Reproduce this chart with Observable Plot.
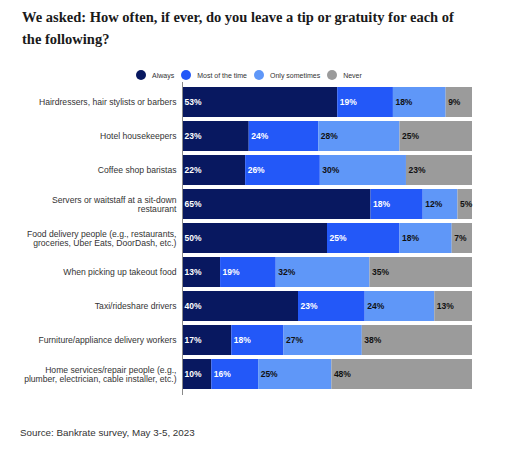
<!DOCTYPE html>
<html>
<head>
<meta charset="utf-8">
<script src="https://cdn.jsdelivr.net/npm/d3@7"></script>
<script src="https://cdn.jsdelivr.net/npm/@observablehq/plot@0.6"></script>
<style>
  html, body { margin: 0; padding: 0; background: #fff; }
  #wrap { position: relative; width: 512px; height: 450px; overflow: hidden; font-family: "Liberation Sans", Arial, sans-serif; }
  #title { position: absolute; left: 22px; top: 6px; width: 448px; font-family: "Liberation Serif", serif; font-weight: bold; font-size: 14.5px; line-height: 22px; color: #1a1a1a; }
  #legend { position: absolute; left: 136px; top: 70px; height: 10px; display: flex; align-items: center; font-size: 7px; color: #333; }
  #legend .item { display: flex; align-items: center; margin-right: 7px; }
  #legend .sw { width: 10px; height: 10px; border-radius: 50%; margin-right: 6px; }
  #chart { position: absolute; left: 0; top: 80px; }
  #source { position: absolute; left: 20px; top: 427px; font-size: 9.8px; line-height: 12px; color: #333; }
</style>
</head>
<body>
<div id="wrap">
  <div id="title">We asked: How often, if ever, do you leave a tip or gratuity for each of the following?</div>
  <div id="legend"></div>
  <div id="chart"></div>
  <div id="source">Source: Bankrate survey, May 3-5, 2023</div>
</div>
<script>
const categories = [
  "Hairdressers, hair stylists or barbers",
  "Hotel housekeepers",
  "Coffee shop baristas",
  "Servers or waitstaff at a sit-down\nrestaurant",
  "Food delivery people (e.g., restaurants,\ngroceries, Uber Eats, DoorDash, etc.)",
  "When picking up takeout food",
  "Taxi/rideshare drivers",
  "Furniture/appliance delivery workers",
  "Home services/repair people (e.g.,\nplumber, electrician, cable installer, etc.)"
];
const seriesNames = ["Always", "Most of the time", "Only sometimes", "Never"];
const seriesColors = ["#081860", "#2358f8", "#5f97f8", "#9b9b9b"];
const always    = [53, 23, 22, 65, 50, 13, 40, 17, 10];
const mostTime  = [19, 24, 26, 18, 25, 19, 23, 18, 16];
const sometimes = [18, 28, 30, 12, 18, 32, 24, 27, 25];
const never     = [ 9, 25, 23,  5,  7, 35, 13, 38, 48];

const seriesValues = [always, mostTime, sometimes, never];
const data = [];
categories.forEach((c, i) => {
  seriesNames.forEach((s, j) => {
    data.push({category: c, series: s, value: seriesValues[j][i]});
  });
});

// legend
const legend = document.getElementById("legend");
seriesNames.forEach((s, j) => {
  const it = document.createElement("div");
  it.className = "item";
  const sw = document.createElement("span");
  sw.className = "sw";
  sw.style.background = seriesColors[j];
  const tx = document.createElement("span");
  tx.textContent = s;
  it.appendChild(sw); it.appendChild(tx);
  legend.appendChild(it);
});

const light = new Set(["Always", "Most of the time"]);
const stackOpts = {x: "value", y: "category", z: "series", offset: "normalize"};

const chart = Plot.plot({
  width: 512,
  height: 318,
  marginLeft: 182,
  marginRight: 40,
  marginTop: 2,
  marginBottom: 3,
  style: {fontFamily: "Liberation Sans, Arial, sans-serif", background: "#fff"},
  x: {axis: null},
  y: {domain: categories, paddingInner: 0.116, paddingOuter: 0.096, label: null},
  color: {domain: seriesNames, range: seriesColors},
  marks: [
    Plot.barX(data, Plot.stackX({...stackOpts, fill: "series"})),
    Plot.text(data, Plot.stackX1({...stackOpts,
      text: d => light.has(d.series) ? d.value + "%" : "",
      textAnchor: "start", dx: 2, fill: "white", fontWeight: "bold", fontSize: 8.5})),
    Plot.text(data, Plot.stackX1({...stackOpts,
      text: d => light.has(d.series) ? "" : d.value + "%",
      textAnchor: "start", dx: 2, fill: "#111", fontWeight: "bold", fontSize: 8.5})),
    Plot.ruleX([0], {stroke: "#8a8a8a", strokeWidth: 1}),
    Plot.axisY({tickSize: 0, tickPadding: 6, fontSize: 8.6, fill: "#333", label: null})
  ]
});
document.getElementById("chart").appendChild(chart);
</script>
</body>
</html>
